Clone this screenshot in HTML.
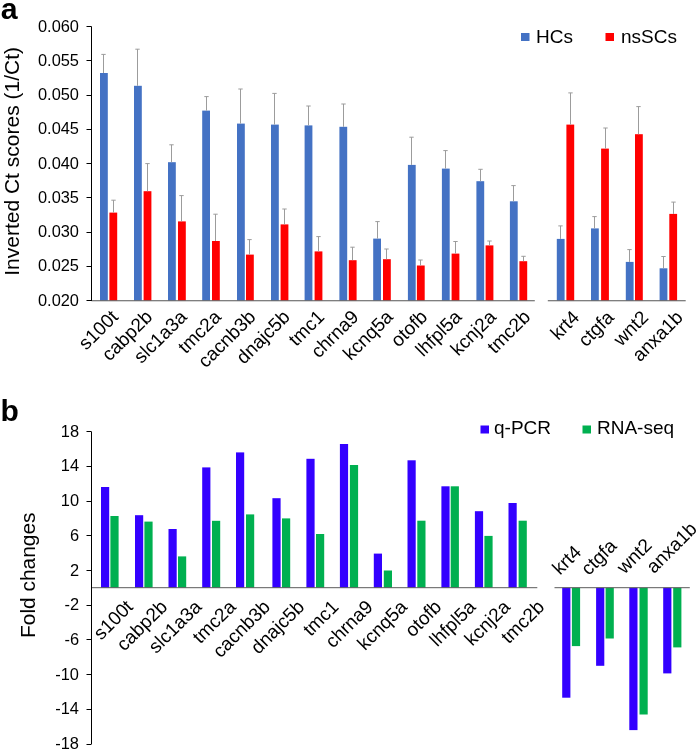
<!DOCTYPE html>
<html><head><meta charset="utf-8"><style>
html,body{margin:0;padding:0;background:#fff;}
body{width:700px;height:752px;position:relative;overflow:hidden;font-family:"Liberation Sans", sans-serif;}
svg text{font-family:"Liberation Sans", sans-serif;fill:#000;}
svg{will-change:transform;}
</style></head><body>
<svg width="700" height="752" viewBox="0 0 700 752" style="position:absolute;left:0;top:0"><rect width="700" height="752" fill="#fff"/><rect x="100.00" y="73.00" width="7.8" height="227.50" fill="#4472C4"/><line x1="103.50" y1="54.40" x2="103.50" y2="73.00" stroke="#9C9C9C" stroke-width="1"/><line x1="101.30" y1="54.40" x2="105.70" y2="54.40" stroke="#9C9C9C" stroke-width="1"/><rect x="134.00" y="85.80" width="7.8" height="214.70" fill="#4472C4"/><line x1="137.50" y1="49.20" x2="137.50" y2="85.80" stroke="#9C9C9C" stroke-width="1"/><line x1="135.30" y1="49.20" x2="139.70" y2="49.20" stroke="#9C9C9C" stroke-width="1"/><rect x="168.00" y="162.20" width="7.8" height="138.30" fill="#4472C4"/><line x1="171.50" y1="144.80" x2="171.50" y2="162.20" stroke="#9C9C9C" stroke-width="1"/><line x1="169.30" y1="144.80" x2="173.70" y2="144.80" stroke="#9C9C9C" stroke-width="1"/><rect x="202.20" y="110.60" width="7.8" height="189.90" fill="#4472C4"/><line x1="206.50" y1="96.60" x2="206.50" y2="110.60" stroke="#9C9C9C" stroke-width="1"/><line x1="204.30" y1="96.60" x2="208.70" y2="96.60" stroke="#9C9C9C" stroke-width="1"/><rect x="237.00" y="123.60" width="7.8" height="176.90" fill="#4472C4"/><line x1="240.50" y1="89.00" x2="240.50" y2="123.60" stroke="#9C9C9C" stroke-width="1"/><line x1="238.30" y1="89.00" x2="242.70" y2="89.00" stroke="#9C9C9C" stroke-width="1"/><rect x="271.00" y="124.60" width="7.8" height="175.90" fill="#4472C4"/><line x1="274.50" y1="93.40" x2="274.50" y2="124.60" stroke="#9C9C9C" stroke-width="1"/><line x1="272.30" y1="93.40" x2="276.70" y2="93.40" stroke="#9C9C9C" stroke-width="1"/><rect x="304.60" y="125.40" width="7.8" height="175.10" fill="#4472C4"/><line x1="308.50" y1="106.00" x2="308.50" y2="125.40" stroke="#9C9C9C" stroke-width="1"/><line x1="306.30" y1="106.00" x2="310.70" y2="106.00" stroke="#9C9C9C" stroke-width="1"/><rect x="339.40" y="126.80" width="7.8" height="173.70" fill="#4472C4"/><line x1="343.50" y1="104.00" x2="343.50" y2="126.80" stroke="#9C9C9C" stroke-width="1"/><line x1="341.30" y1="104.00" x2="345.70" y2="104.00" stroke="#9C9C9C" stroke-width="1"/><rect x="373.20" y="238.60" width="7.8" height="61.90" fill="#4472C4"/><line x1="377.50" y1="221.60" x2="377.50" y2="238.60" stroke="#9C9C9C" stroke-width="1"/><line x1="375.30" y1="221.60" x2="379.70" y2="221.60" stroke="#9C9C9C" stroke-width="1"/><rect x="407.90" y="164.90" width="7.8" height="135.60" fill="#4472C4"/><line x1="411.50" y1="137.20" x2="411.50" y2="164.90" stroke="#9C9C9C" stroke-width="1"/><line x1="409.30" y1="137.20" x2="413.70" y2="137.20" stroke="#9C9C9C" stroke-width="1"/><rect x="441.90" y="168.60" width="7.8" height="131.90" fill="#4472C4"/><line x1="445.50" y1="150.60" x2="445.50" y2="168.60" stroke="#9C9C9C" stroke-width="1"/><line x1="443.30" y1="150.60" x2="447.70" y2="150.60" stroke="#9C9C9C" stroke-width="1"/><rect x="476.40" y="181.20" width="7.8" height="119.30" fill="#4472C4"/><line x1="480.50" y1="169.30" x2="480.50" y2="181.20" stroke="#9C9C9C" stroke-width="1"/><line x1="478.30" y1="169.30" x2="482.70" y2="169.30" stroke="#9C9C9C" stroke-width="1"/><rect x="509.90" y="201.30" width="7.8" height="99.20" fill="#4472C4"/><line x1="513.50" y1="185.60" x2="513.50" y2="201.30" stroke="#9C9C9C" stroke-width="1"/><line x1="511.30" y1="185.60" x2="515.70" y2="185.60" stroke="#9C9C9C" stroke-width="1"/><rect x="556.80" y="238.90" width="7.8" height="61.60" fill="#4472C4"/><line x1="560.50" y1="225.90" x2="560.50" y2="238.90" stroke="#9C9C9C" stroke-width="1"/><line x1="558.30" y1="225.90" x2="562.70" y2="225.90" stroke="#9C9C9C" stroke-width="1"/><rect x="591.00" y="228.40" width="7.8" height="72.10" fill="#4472C4"/><line x1="594.50" y1="216.60" x2="594.50" y2="228.40" stroke="#9C9C9C" stroke-width="1"/><line x1="592.30" y1="216.60" x2="596.70" y2="216.60" stroke="#9C9C9C" stroke-width="1"/><rect x="625.80" y="261.90" width="7.8" height="38.60" fill="#4472C4"/><line x1="629.50" y1="249.60" x2="629.50" y2="261.90" stroke="#9C9C9C" stroke-width="1"/><line x1="627.30" y1="249.60" x2="631.70" y2="249.60" stroke="#9C9C9C" stroke-width="1"/><rect x="659.60" y="268.30" width="7.8" height="32.20" fill="#4472C4"/><line x1="663.50" y1="256.50" x2="663.50" y2="268.30" stroke="#9C9C9C" stroke-width="1"/><line x1="661.30" y1="256.50" x2="665.70" y2="256.50" stroke="#9C9C9C" stroke-width="1"/><rect x="109.40" y="212.60" width="7.8" height="87.90" fill="#FF0000"/><line x1="113.50" y1="200.20" x2="113.50" y2="212.60" stroke="#9C9C9C" stroke-width="1"/><line x1="111.30" y1="200.20" x2="115.70" y2="200.20" stroke="#9C9C9C" stroke-width="1"/><rect x="143.60" y="191.20" width="7.8" height="109.30" fill="#FF0000"/><line x1="147.50" y1="163.60" x2="147.50" y2="191.20" stroke="#9C9C9C" stroke-width="1"/><line x1="145.30" y1="163.60" x2="149.70" y2="163.60" stroke="#9C9C9C" stroke-width="1"/><rect x="178.00" y="221.40" width="7.8" height="79.10" fill="#FF0000"/><line x1="181.50" y1="195.60" x2="181.50" y2="221.40" stroke="#9C9C9C" stroke-width="1"/><line x1="179.30" y1="195.60" x2="183.70" y2="195.60" stroke="#9C9C9C" stroke-width="1"/><rect x="212.00" y="241.00" width="7.8" height="59.50" fill="#FF0000"/><line x1="215.50" y1="214.20" x2="215.50" y2="241.00" stroke="#9C9C9C" stroke-width="1"/><line x1="213.30" y1="214.20" x2="217.70" y2="214.20" stroke="#9C9C9C" stroke-width="1"/><rect x="246.00" y="254.60" width="7.8" height="45.90" fill="#FF0000"/><line x1="249.50" y1="239.60" x2="249.50" y2="254.60" stroke="#9C9C9C" stroke-width="1"/><line x1="247.30" y1="239.60" x2="251.70" y2="239.60" stroke="#9C9C9C" stroke-width="1"/><rect x="280.60" y="224.40" width="7.8" height="76.10" fill="#FF0000"/><line x1="284.50" y1="209.00" x2="284.50" y2="224.40" stroke="#9C9C9C" stroke-width="1"/><line x1="282.30" y1="209.00" x2="286.70" y2="209.00" stroke="#9C9C9C" stroke-width="1"/><rect x="314.60" y="251.40" width="7.8" height="49.10" fill="#FF0000"/><line x1="318.50" y1="236.60" x2="318.50" y2="251.40" stroke="#9C9C9C" stroke-width="1"/><line x1="316.30" y1="236.60" x2="320.70" y2="236.60" stroke="#9C9C9C" stroke-width="1"/><rect x="348.80" y="260.20" width="7.8" height="40.30" fill="#FF0000"/><line x1="352.50" y1="247.20" x2="352.50" y2="260.20" stroke="#9C9C9C" stroke-width="1"/><line x1="350.30" y1="247.20" x2="354.70" y2="247.20" stroke="#9C9C9C" stroke-width="1"/><rect x="383.00" y="259.20" width="7.8" height="41.30" fill="#FF0000"/><line x1="386.50" y1="249.00" x2="386.50" y2="259.20" stroke="#9C9C9C" stroke-width="1"/><line x1="384.30" y1="249.00" x2="388.70" y2="249.00" stroke="#9C9C9C" stroke-width="1"/><rect x="416.90" y="265.50" width="7.8" height="35.00" fill="#FF0000"/><line x1="420.50" y1="260.00" x2="420.50" y2="265.50" stroke="#9C9C9C" stroke-width="1"/><line x1="418.30" y1="260.00" x2="422.70" y2="260.00" stroke="#9C9C9C" stroke-width="1"/><rect x="451.60" y="253.60" width="7.8" height="46.90" fill="#FF0000"/><line x1="455.50" y1="241.50" x2="455.50" y2="253.60" stroke="#9C9C9C" stroke-width="1"/><line x1="453.30" y1="241.50" x2="457.70" y2="241.50" stroke="#9C9C9C" stroke-width="1"/><rect x="485.60" y="245.40" width="7.8" height="55.10" fill="#FF0000"/><line x1="489.50" y1="241.00" x2="489.50" y2="245.40" stroke="#9C9C9C" stroke-width="1"/><line x1="487.30" y1="241.00" x2="491.70" y2="241.00" stroke="#9C9C9C" stroke-width="1"/><rect x="519.40" y="261.20" width="7.8" height="39.30" fill="#FF0000"/><line x1="523.50" y1="256.30" x2="523.50" y2="261.20" stroke="#9C9C9C" stroke-width="1"/><line x1="521.30" y1="256.30" x2="525.70" y2="256.30" stroke="#9C9C9C" stroke-width="1"/><rect x="566.40" y="124.60" width="7.8" height="175.90" fill="#FF0000"/><line x1="570.50" y1="92.90" x2="570.50" y2="124.60" stroke="#9C9C9C" stroke-width="1"/><line x1="568.30" y1="92.90" x2="572.70" y2="92.90" stroke="#9C9C9C" stroke-width="1"/><rect x="601.10" y="148.60" width="7.8" height="151.90" fill="#FF0000"/><line x1="605.50" y1="128.00" x2="605.50" y2="148.60" stroke="#9C9C9C" stroke-width="1"/><line x1="603.30" y1="128.00" x2="607.70" y2="128.00" stroke="#9C9C9C" stroke-width="1"/><rect x="635.00" y="134.20" width="7.8" height="166.30" fill="#FF0000"/><line x1="638.50" y1="106.60" x2="638.50" y2="134.20" stroke="#9C9C9C" stroke-width="1"/><line x1="636.30" y1="106.60" x2="640.70" y2="106.60" stroke="#9C9C9C" stroke-width="1"/><rect x="669.30" y="213.90" width="7.8" height="86.60" fill="#FF0000"/><line x1="673.50" y1="202.10" x2="673.50" y2="213.90" stroke="#9C9C9C" stroke-width="1"/><line x1="671.30" y1="202.10" x2="675.70" y2="202.10" stroke="#9C9C9C" stroke-width="1"/><line x1="91.5" y1="300.75" x2="534.8" y2="300.75" stroke="#555" stroke-width="1.2"/><line x1="547.8" y1="300.75" x2="685.7" y2="300.75" stroke="#555" stroke-width="1.2"/><line x1="91.5" y1="26.5" x2="91.5" y2="301.0" stroke="#000" stroke-width="1"/><line x1="86.5" y1="26.50" x2="91.5" y2="26.50" stroke="#000" stroke-width="1"/><text x="79" y="31.50" font-size="16.4" text-anchor="end">0.060</text><line x1="86.5" y1="60.50" x2="91.5" y2="60.50" stroke="#000" stroke-width="1"/><text x="79" y="65.75" font-size="16.4" text-anchor="end">0.055</text><line x1="86.5" y1="95.50" x2="91.5" y2="95.50" stroke="#000" stroke-width="1"/><text x="79" y="100.00" font-size="16.4" text-anchor="end">0.050</text><line x1="86.5" y1="129.50" x2="91.5" y2="129.50" stroke="#000" stroke-width="1"/><text x="79" y="134.25" font-size="16.4" text-anchor="end">0.045</text><line x1="86.5" y1="163.50" x2="91.5" y2="163.50" stroke="#000" stroke-width="1"/><text x="79" y="168.50" font-size="16.4" text-anchor="end">0.040</text><line x1="86.5" y1="197.50" x2="91.5" y2="197.50" stroke="#000" stroke-width="1"/><text x="79" y="202.75" font-size="16.4" text-anchor="end">0.035</text><line x1="86.5" y1="232.50" x2="91.5" y2="232.50" stroke="#000" stroke-width="1"/><text x="79" y="237.00" font-size="16.4" text-anchor="end">0.030</text><line x1="86.5" y1="266.50" x2="91.5" y2="266.50" stroke="#000" stroke-width="1"/><text x="79" y="271.25" font-size="16.4" text-anchor="end">0.025</text><line x1="86.5" y1="300.50" x2="91.5" y2="300.50" stroke="#000" stroke-width="1"/><text x="79" y="305.50" font-size="16.4" text-anchor="end">0.020</text><rect x="521" y="33" width="8.5" height="8" fill="#4472C4"/><text x="536" y="42.5" font-size="19">HCs</text><rect x="605.5" y="33" width="8.5" height="8" fill="#FF0000"/><text x="621" y="42.5" font-size="19">nsSCs</text><text transform="translate(19.2,161.4) rotate(-90)" font-size="21" text-anchor="middle">Inverted Ct scores (1/Ct)</text><text x="0.8" y="18.7" font-size="30.3" font-weight="bold">a</text><text transform="translate(119.20,318.00) rotate(-45)" font-size="19" text-anchor="end">s100t</text><text transform="translate(153.56,318.00) rotate(-45)" font-size="19" text-anchor="end">cabp2b</text><text transform="translate(187.92,318.00) rotate(-45)" font-size="19" text-anchor="end">slc1a3a</text><text transform="translate(222.28,318.00) rotate(-45)" font-size="19" text-anchor="end">tmc2a</text><text transform="translate(256.64,318.00) rotate(-45)" font-size="19" text-anchor="end">cacnb3b</text><text transform="translate(291.00,318.00) rotate(-45)" font-size="19" text-anchor="end">dnajc5b</text><text transform="translate(325.36,318.00) rotate(-45)" font-size="19" text-anchor="end">tmc1</text><text transform="translate(359.72,318.00) rotate(-45)" font-size="19" text-anchor="end">chrna9</text><text transform="translate(394.08,318.00) rotate(-45)" font-size="19" text-anchor="end">kcnq5a</text><text transform="translate(428.44,318.00) rotate(-45)" font-size="19" text-anchor="end">otofb</text><text transform="translate(462.80,318.00) rotate(-45)" font-size="19" text-anchor="end">lhfpl5a</text><text transform="translate(497.16,318.00) rotate(-45)" font-size="19" text-anchor="end">kcnj2a</text><text transform="translate(531.52,318.00) rotate(-45)" font-size="19" text-anchor="end">tmc2b</text><text transform="translate(580.55,318.50) rotate(-45)" font-size="19" text-anchor="end">krt4</text><text transform="translate(615.05,318.50) rotate(-45)" font-size="19" text-anchor="end">ctgfa</text><text transform="translate(649.55,318.50) rotate(-45)" font-size="19" text-anchor="end">wnt2</text><text transform="translate(684.05,318.50) rotate(-45)" font-size="19" text-anchor="end">anxa1b</text><rect x="101" y="487" width="8.2" height="100.70" fill="#3300FF"/><rect x="135" y="515.2" width="8.2" height="72.50" fill="#3300FF"/><rect x="168.5" y="529" width="8.2" height="58.70" fill="#3300FF"/><rect x="202.2" y="467.4" width="8.2" height="120.30" fill="#3300FF"/><rect x="236" y="452.4" width="8.2" height="135.30" fill="#3300FF"/><rect x="272.4" y="498.2" width="8.2" height="89.50" fill="#3300FF"/><rect x="306.4" y="458.8" width="8.2" height="128.90" fill="#3300FF"/><rect x="339.9" y="444" width="8.2" height="143.70" fill="#3300FF"/><rect x="373.8" y="553.6" width="8.2" height="34.10" fill="#3300FF"/><rect x="407.5" y="460.3" width="8.2" height="127.40" fill="#3300FF"/><rect x="441.4" y="486.3" width="8.2" height="101.40" fill="#3300FF"/><rect x="474.9" y="511.2" width="8.2" height="76.50" fill="#3300FF"/><rect x="508.5" y="503" width="8.2" height="84.70" fill="#3300FF"/><rect x="110.4" y="516" width="8.2" height="71.70" fill="#00B050"/><rect x="144.4" y="521.6" width="8.2" height="66.10" fill="#00B050"/><rect x="178" y="556.4" width="8.2" height="31.30" fill="#00B050"/><rect x="212" y="520.8" width="8.2" height="66.90" fill="#00B050"/><rect x="246" y="514.4" width="8.2" height="73.30" fill="#00B050"/><rect x="282" y="518.4" width="8.2" height="69.30" fill="#00B050"/><rect x="316" y="534" width="8.2" height="53.70" fill="#00B050"/><rect x="349.9" y="465" width="8.2" height="122.70" fill="#00B050"/><rect x="383.8" y="570.5" width="8.2" height="17.20" fill="#00B050"/><rect x="417.3" y="520.7" width="8.2" height="67.00" fill="#00B050"/><rect x="450.7" y="486.3" width="8.2" height="101.40" fill="#00B050"/><rect x="484.4" y="535.9" width="8.2" height="51.80" fill="#00B050"/><rect x="518.6" y="520.7" width="8.2" height="67.00" fill="#00B050"/><rect x="562.2" y="587.7" width="8.2" height="110.00" fill="#3300FF"/><rect x="596.1" y="587.7" width="8.2" height="78.10" fill="#3300FF"/><rect x="629.3" y="587.7" width="8.2" height="142.40" fill="#3300FF"/><rect x="663.2" y="587.7" width="8.2" height="85.70" fill="#3300FF"/><rect x="571.9" y="587.7" width="8.2" height="58.40" fill="#00B050"/><rect x="605.6" y="587.7" width="8.2" height="50.80" fill="#00B050"/><rect x="639.5" y="587.7" width="8.2" height="126.80" fill="#00B050"/><rect x="673.2" y="587.7" width="8.2" height="59.70" fill="#00B050"/><line x1="91.5" y1="587.7" x2="537.3" y2="587.7" stroke="#5a5a5a" stroke-width="1"/><line x1="554.5" y1="587.7" x2="689.8" y2="587.7" stroke="#5a5a5a" stroke-width="1"/><line x1="91.5" y1="431.7" x2="91.5" y2="744.0" stroke="#000" stroke-width="1"/><line x1="86.5" y1="431.50" x2="91.5" y2="431.50" stroke="#000" stroke-width="1"/><text x="79" y="436.70" font-size="16.4" text-anchor="end">18</text><line x1="86.5" y1="466.50" x2="91.5" y2="466.50" stroke="#000" stroke-width="1"/><text x="79" y="471.40" font-size="16.4" text-anchor="end">14</text><line x1="86.5" y1="501.50" x2="91.5" y2="501.50" stroke="#000" stroke-width="1"/><text x="79" y="506.10" font-size="16.4" text-anchor="end">10</text><line x1="86.5" y1="535.50" x2="91.5" y2="535.50" stroke="#000" stroke-width="1"/><text x="79" y="540.80" font-size="16.4" text-anchor="end">6</text><line x1="86.5" y1="570.50" x2="91.5" y2="570.50" stroke="#000" stroke-width="1"/><text x="79" y="575.50" font-size="16.4" text-anchor="end">2</text><line x1="86.5" y1="605.50" x2="91.5" y2="605.50" stroke="#000" stroke-width="1"/><text x="79" y="610.20" font-size="16.4" text-anchor="end">-2</text><line x1="86.5" y1="639.50" x2="91.5" y2="639.50" stroke="#000" stroke-width="1"/><text x="79" y="644.90" font-size="16.4" text-anchor="end">-6</text><line x1="86.5" y1="674.50" x2="91.5" y2="674.50" stroke="#000" stroke-width="1"/><text x="79" y="679.60" font-size="16.4" text-anchor="end">-10</text><line x1="86.5" y1="709.50" x2="91.5" y2="709.50" stroke="#000" stroke-width="1"/><text x="79" y="714.30" font-size="16.4" text-anchor="end">-14</text><line x1="86.5" y1="744.50" x2="91.5" y2="744.50" stroke="#000" stroke-width="1"/><text x="79" y="749.00" font-size="16.4" text-anchor="end">-18</text><rect x="480.5" y="425.5" width="8.5" height="8" fill="#3300FF"/><text x="494" y="434" font-size="19">q-PCR</text><rect x="582.5" y="425.5" width="8.5" height="8" fill="#00B050"/><text x="597" y="434" font-size="19">RNA-seq</text><text transform="translate(34.6,575.2) rotate(-90)" font-size="20.9" text-anchor="middle">Fold changes</text><text x="0.5" y="421.3" font-size="30" font-weight="bold">b</text><text transform="translate(134.10,607.90) rotate(-45)" font-size="19" text-anchor="end">s100t</text><text transform="translate(168.38,607.91) rotate(-45)" font-size="19" text-anchor="end">cabp2b</text><text transform="translate(202.65,607.92) rotate(-45)" font-size="19" text-anchor="end">slc1a3a</text><text transform="translate(236.92,607.93) rotate(-45)" font-size="19" text-anchor="end">tmc2a</text><text transform="translate(271.20,607.94) rotate(-45)" font-size="19" text-anchor="end">cacnb3b</text><text transform="translate(305.48,607.95) rotate(-45)" font-size="19" text-anchor="end">dnajc5b</text><text transform="translate(339.75,607.96) rotate(-45)" font-size="19" text-anchor="end">tmc1</text><text transform="translate(374.02,607.97) rotate(-45)" font-size="19" text-anchor="end">chrna9</text><text transform="translate(408.30,607.98) rotate(-45)" font-size="19" text-anchor="end">kcnq5a</text><text transform="translate(442.57,607.99) rotate(-45)" font-size="19" text-anchor="end">otofb</text><text transform="translate(476.85,608.00) rotate(-45)" font-size="19" text-anchor="end">lhfpl5a</text><text transform="translate(511.12,608.01) rotate(-45)" font-size="19" text-anchor="end">kcnj2a</text><text transform="translate(545.40,608.02) rotate(-45)" font-size="19" text-anchor="end">tmc2b</text><text transform="translate(560.00,575.70) rotate(-45)" font-size="19">krt4</text><text transform="translate(588.70,576.20) rotate(-45)" font-size="19">ctgfa</text><text transform="translate(624.60,574.70) rotate(-45)" font-size="19">wnt2</text><text transform="translate(654.00,574.20) rotate(-45)" font-size="19">anxa1b</text></svg>
</body></html>
